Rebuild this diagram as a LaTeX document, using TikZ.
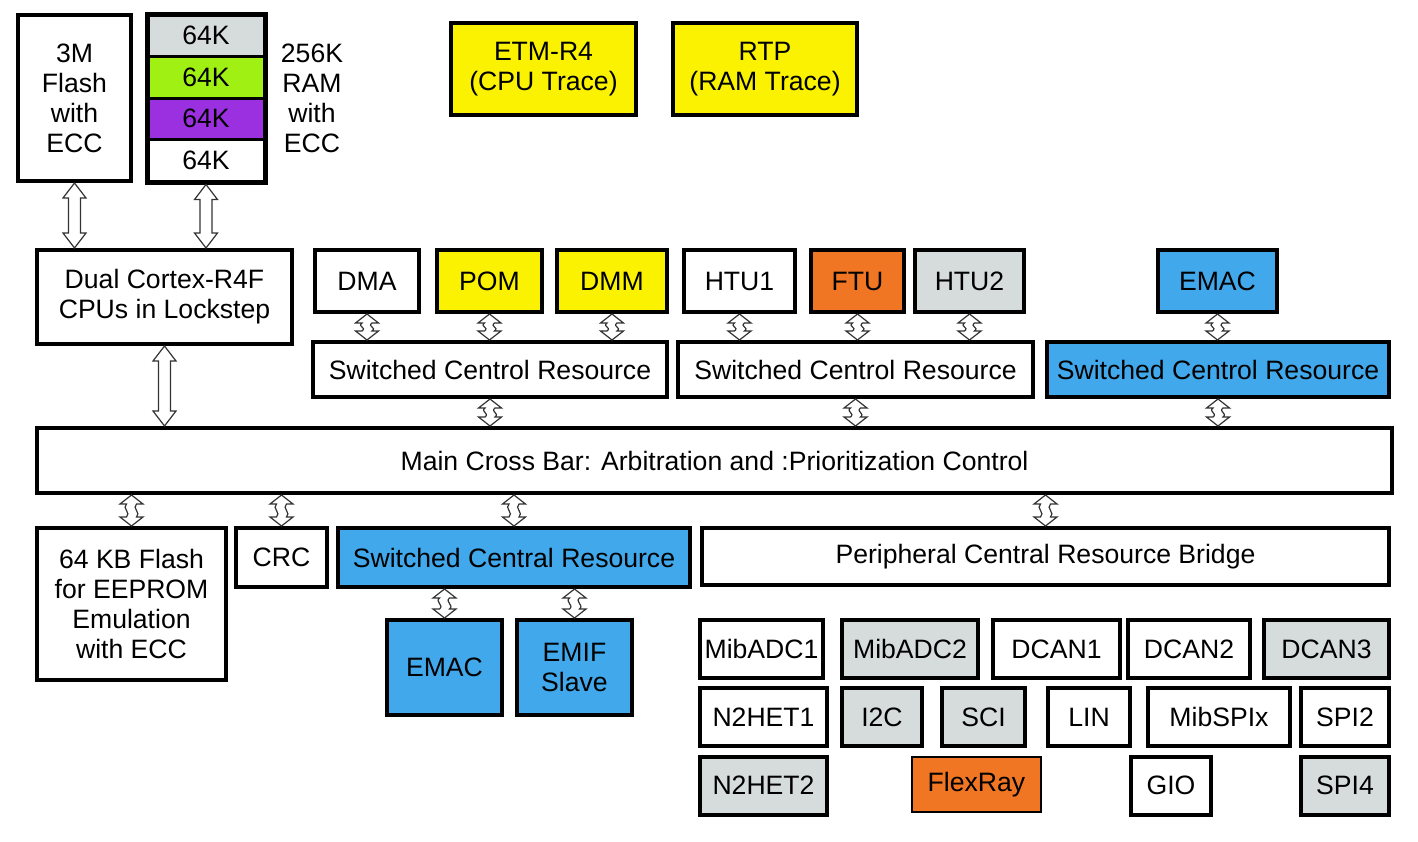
\documentclass[tikz,border=0pt]{standalone}
\usepackage{fontspec}
\setmainfont{Liberation Sans}
\usetikzlibrary{calc,fit}
\definecolor{cYel}{RGB}{250,242,0}
\definecolor{cGry}{RGB}{214,219,219}
\definecolor{cBlu}{RGB}{64,168,235}
\definecolor{cOrg}{RGB}{240,118,35}
\definecolor{cGrn}{RGB}{160,240,20}
\definecolor{cPur}{RGB}{155,48,225}
% hollow double bus arrow: top, bottom, shaft half, head half, head length
\newcommand{\bigbus}[2]{%
  \draw[bus] let \p1=(#1), \p2=(#2) in
    (\x1,\y1) -- (\x1+5.75pt,\y1-7.5pt) -- (\x1+3pt,\y1-7.5pt) -- (\x1+3pt,\y2+7.5pt)
    -- (\x1+5.75pt,\y2+7.5pt) -- (\x1,\y2) -- (\x1-5.75pt,\y2+7.5pt) -- (\x1-3pt,\y2+7.5pt)
    -- (\x1-3pt,\y1-7.5pt) -- (\x1-5.75pt,\y1-7.5pt) -- cycle;}
% small one, shaft a bit wavy
\newcommand{\smbus}[2]{%
  \draw[bus] let \p1=(#1), \p2=(#2) in
    (\x1,\y1) -- (\x1+5.75pt,\y1-4.5pt) -- (\x1+2.5pt,\y1-4.5pt)
    .. controls +(-2.5pt,-2pt) and +(2.5pt,2pt) .. (\x1+2.5pt,\y2+4.5pt)
    -- (\x1+5.75pt,\y2+4.5pt) -- (\x1,\y2) -- (\x1-5.75pt,\y2+4.5pt) -- (\x1-2.5pt,\y2+4.5pt)
    .. controls +(2.5pt,2pt) and +(-2.5pt,-2pt) .. (\x1-2.5pt,\y1-4.5pt)
    -- (\x1-5.75pt,\y1-4.5pt) -- cycle;}

\begin{document}
\begin{tikzpicture}[x=0.5pt, y=-0.5pt,
  font=\fontsize{13.3}{15}\selectfont,
  blk/.style={draw, line width=2pt, inner sep=0pt, align=center},
  yl/.style={blk, fill=cYel}, gr/.style={blk, fill=cGry},
  bl/.style={blk, fill=cBlu}, og/.style={blk, fill=cOrg},
  rw/.style={draw, line width=1.5pt, inner sep=0pt, minimum width=58pt, minimum height=20.75pt},
  top/.style={minimum height=31pt}, scr/.style={minimum height=27.5pt},
  pr/.style={minimum height=29pt},
  bus/.style={draw=black!80, fill=white, line width=0.6pt}]
  \useasboundingbox (0,0) rectangle (1418,841);
  % memories
  \node[blk, minimum width=56.5pt, minimum height=83pt] (flash) at (74.5,98) {3M\\Flash\\with\\ECC};
  \node[rw, fill=cGry]  (r1) at (206,35.75)  {64K};
  \node[rw, fill=cGrn]  (r2) at (206,77.25)  {64K};
  \node[rw, fill=cPur]  (r3) at (206,118.75) {64K};
  \node[rw, fill=white] (r4) at (206,160.25) {64K};
  \node[fit=(r1)(r4), draw, line width=2pt, inner sep=0pt] (ram) {};
  \node[align=center] (ramlbl) at (312,98) {256K\\RAM\\with\\ECC};
  % trace
  \node[yl, minimum width=92.5pt, minimum height=46pt] (etm) at (543.5,69) {ETM-R4\\(CPU Trace)};
  \node[yl, minimum width=92pt, minimum height=46pt] (rtp) at (765,69) {RTP\\(RAM Trace)};
  % cpu
  \node[blk, minimum width=127.5pt, minimum height=47pt] (cpu) at (164.5,297) {Dual Cortex-R4F\\CPUs in Lockstep};
  % masters
  \node[blk, top, minimum width=52pt]   (dma)   at (367,281)    {DMA};
  \node[yl, top, minimum width=52.5pt]  (pom)   at (489.5,281)  {POM};
  \node[yl, top, minimum width=55pt]    (dmm)   at (612,281)    {DMM};
  \node[blk, top, minimum width=55.5pt] (htua)  at (739.5,281)  {HTU1};
  \node[og, top, minimum width=46.5pt]  (ftu)   at (857.5,281)  {FTU};
  \node[gr, top, minimum width=54.5pt]  (htub)  at (969.5,281)  {HTU2};
  \node[bl, top, minimum width=59.5pt]  (emaca) at (1217.5,281) {EMAC};
  \node[blk, scr, minimum width=177pt]   (scra) at (490,369.5)  {Switched Centrol Resource};
  \node[blk, scr, minimum width=177.5pt] (scrb) at (855.5,369.5) {Switched Centrol Resource};
  \node[bl, scr, minimum width=171pt]    (scrc) at (1218,369.5) {Switched Centrol Resource};
  % cross bar
  \node[blk, minimum width=677.5pt, minimum height=32.5pt] (xbar) at (714.5,460.5) {Main Cross Bar: Arbitration and :Prioritization Control};
  % slaves
  \node[blk, minimum width=94.5pt, minimum height=76pt] (eep) at (131.5,604) {64 KB Flash\\for EEPROM\\Emulation\\with ECC};
  \node[blk, minimum width=45.5pt, minimum height=29.5pt] (crc) at (281.5,557.5) {CRC};
  \node[bl, minimum width=176pt, minimum height=29.5pt] (scrm) at (514,557.5) {Switched Central Resource};
  \node[blk, minimum width=343.5pt, minimum height=28.5pt] (pcr) at (1045.5,556.5) {Peripheral Central Resource Bridge};
  \node[bl, minimum width=57.5pt, minimum height=47.5pt] (emacb) at (444.5,667.5) {EMAC};
  \node[bl, minimum width=57.5pt, minimum height=47.5pt] (emif)  at (574.5,667.5) {EMIF\\Slave};
  % peripherals
  \node[blk, pr, minimum width=61.5pt] (adca)  at (761.5,649)  {MibADC1};
  \node[gr, pr, minimum width=68pt]    (adcb)  at (910,649)    {MibADC2};
  \node[blk, pr, minimum width=63.5pt] (cana)  at (1056.5,649) {DCAN1};
  \node[blk, pr, minimum width=61pt]   (canb)  at (1189,649)   {DCAN2};
  \node[gr, pr, minimum width=62.5pt]  (canc)  at (1326.5,649) {DCAN3};
  \node[blk, pr, minimum width=63.5pt] (heta)  at (763.5,717)  {N2HET1};
  \node[gr, pr, minimum width=40pt]    (iic)   at (882,717)    {I2C};
  \node[gr, pr, minimum width=41.5pt]  (sci)   at (983.5,717)  {SCI};
  \node[blk, pr, minimum width=41pt]   (lin)   at (1089,717)   {LIN};
  \node[blk, pr, minimum width=71pt]   (spix)  at (1219,717)   {MibSPIx};
  \node[blk, pr, minimum width=44pt]   (spib)  at (1345,717)   {SPI2};
  \node[gr, pr, minimum width=63.5pt]  (hetb)  at (763.5,785.5) {N2HET2};
  \node[og, line width=1pt, minimum width=64.5pt, minimum height=27.5pt] (flex) at (976.5,784.5) {FlexRay};
  \node[blk, pr, minimum width=40pt]   (gio)   at (1171,785.5) {GIO};
  \node[gr, pr, minimum width=44pt]    (spid)  at (1345,785.5) {SPI4};
  % buses
  \bigbus{flash.south}{flash.south |- cpu.north}
  \bigbus{ram.south}{ram.south |- cpu.north}
  \bigbus{cpu.south}{cpu.south |- xbar.north}
  \foreach \m/\s in {dma/scra, pom/scra, dmm/scra, htua/scrb, ftu/scrb, htub/scrb, emaca/scrc}
    {\smbus{\m.south}{\m.south |- \s.north}}
  \foreach \s in {scra, scrb, scrc}
    {\smbus{\s.south}{\s.south |- xbar.north}}
  \foreach \s in {eep, crc, scrm, pcr}
    {\smbus{xbar.south -| \s.north}{\s.north}}
  \smbus{scrm.south -| emacb.north}{emacb.north}
  \smbus{scrm.south -| emif.north}{emif.north}
\end{tikzpicture}
\end{document}
